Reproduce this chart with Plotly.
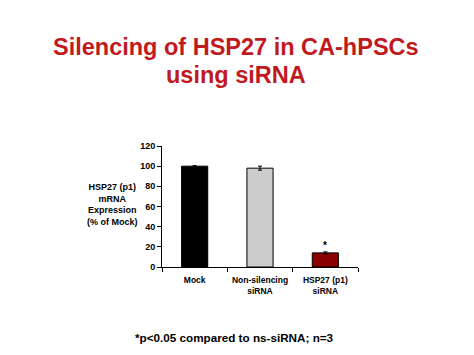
import plotly.graph_objects as go

categories = ["Mock", "Non-silencing<br>siRNA", "HSP27 (p1)<br>siRNA"]
values = [100, 98, 14]
errors = [0.5, 2, 1]
colors = ["#000000", "#cccccc", "#8b0000"]
y_ticks = [0, 20, 40, 60, 80, 100, 120]
title_lines = ["Silencing of HSP27 in CA-hPSCs", "using siRNA"]

font = "Liberation Sans, Arial, sans-serif"

fig = go.Figure()
fig.add_trace(go.Bar(
    x=categories, y=values,
    marker=dict(color=colors, line=dict(color="black", width=1)),
    width=0.4,
    error_y=dict(type="data", array=errors, visible=True, color="black", thickness=1, width=2),
))
fig.add_annotation(x=categories[2], y=values[2] + errors[2] + 6, text="<b>*</b>",
                   showarrow=False, font=dict(family=font, size=10, color="black"))

fig.update_layout(
    width=474, height=355,
    margin=dict(l=162, r=116, t=146, b=88, autoexpand=False),
    paper_bgcolor="white", plot_bgcolor="white",
    showlegend=False,
    font=dict(family=font, size=9, color="black"),
)
for line, yp in zip(title_lines, [1.818, 1.587]):
    fig.add_annotation(xref="paper", yref="paper", x=0.378, y=yp, text=f"<b>{line}</b>",
                       showarrow=False, xanchor="center", yanchor="middle",
                       font=dict(family=font, size=23.5, color="#c01a1e"))
fig.update_yaxes(range=[0, 120], tickvals=y_ticks, ticktext=[f"<b>{v}</b>" for v in y_ticks],
                 showline=True, linecolor="black", linewidth=1, ticks="outside", ticklen=4,
                 tickcolor="black", showgrid=False, zeroline=False, tickfont=dict(size=9),
                 automargin=False)
fig.update_xaxes(showline=True, linecolor="black", linewidth=1, ticks="outside", ticklen=4,
                 tickcolor="black", tickson="boundaries", showgrid=False,
                 ticktext=[f"<b>{c}</b>" for c in categories], tickvals=categories,
                 tickfont=dict(size=8.5), tickangle=0, automargin=False,
                 ticklabelstandoff=5)
fig.add_annotation(xref="paper", yref="paper", x=-0.255, y=0.52,
                   text="<b>HSP27 (p1)<br>mRNA<br>Expression<br>(% of Mock)</b>",
                   showarrow=False, xanchor="center", yanchor="middle",
                   font=dict(family=font, size=9, color="black"))
fig.add_annotation(xref="paper", yref="paper", x=0.372, y=-0.58,
                   text="<b>*p<0.05 compared to ns-siRNA; n=3</b>",
                   showarrow=False, xanchor="center", yanchor="middle",
                   font=dict(family=font, size=11.7, color="black"))
fig.write_html("out.html", config={"displayModeBar": False},
               post_script="document.body.style.margin='0';")
